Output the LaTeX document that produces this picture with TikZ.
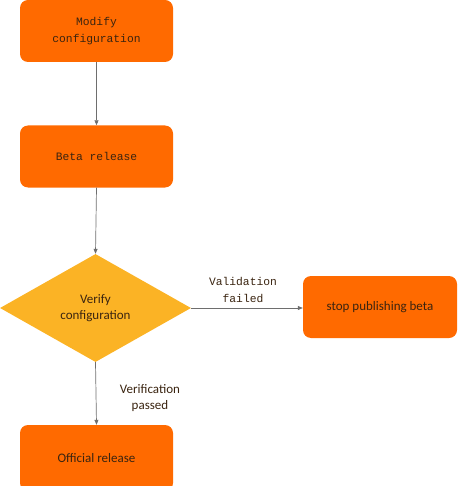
\documentclass[tikz,border=0pt]{standalone}
\usepackage{fontspec}
\setmainfont{Carlito}
\newfontfamily\monofnt{Liberation Mono}
\usetikzlibrary{shapes.geometric,arrows.meta}
\definecolor{boxorange}{HTML}{FF6A00}
\definecolor{dgold}{HTML}{FBB325}
\definecolor{txt}{HTML}{3A2410}
\definecolor{lin}{HTML}{6E6E6E}
\tikzset{
  procbox/.style={fill=boxorange, draw=none, rounded corners=8pt, minimum width=153pt, minimum height=62pt, inner sep=0pt, text=txt, align=center},
  decis/.style={diamond, fill=dgold, draw=none, minimum width=191pt, minimum height=108pt, inner sep=0pt, text=txt, align=center, aspect=1.77},
  conn/.style={draw=lin, line width=0.7pt, -{Triangle[length=5pt,width=4pt]}},
  mono/.style={font=\monofnt\fontsize{11.3}{17}\selectfont},
  cal/.style={font=\fontsize{13}{16}\selectfont}
}
\begin{document}
\begin{tikzpicture}[x=1pt,y=-1pt]
\useasboundingbox (0,0) rectangle (474,486);
\node[procbox, mono] (m) at (96.5,31) {Modify\\configuration};
\node[procbox, mono] (b) at (96.5,156.5) {Beta release};
\node[decis, cal] (v) at (95.5,308) {Verify\\configuration};
\node[procbox, cal, minimum width=154pt] (s) at (380,307) {stop publishing beta};
\node[procbox, cal, minimum height=66pt] (o) at (96.5,458) {Official release};
\draw[conn] (m.south) -- (b.north);
\draw[conn] (b.south) -- (v.north);
\draw[conn] (v.east) -- (s.west |- v.east);
\draw[conn] (v.south) -- (o.north);
\node[mono, text=txt, align=center] (lf) at (243,290) {Validation\\failed};
\node[cal, text=txt, align=center] (lp) at (150,398.5) {Verification\\passed};
\end{tikzpicture}
\end{document}
